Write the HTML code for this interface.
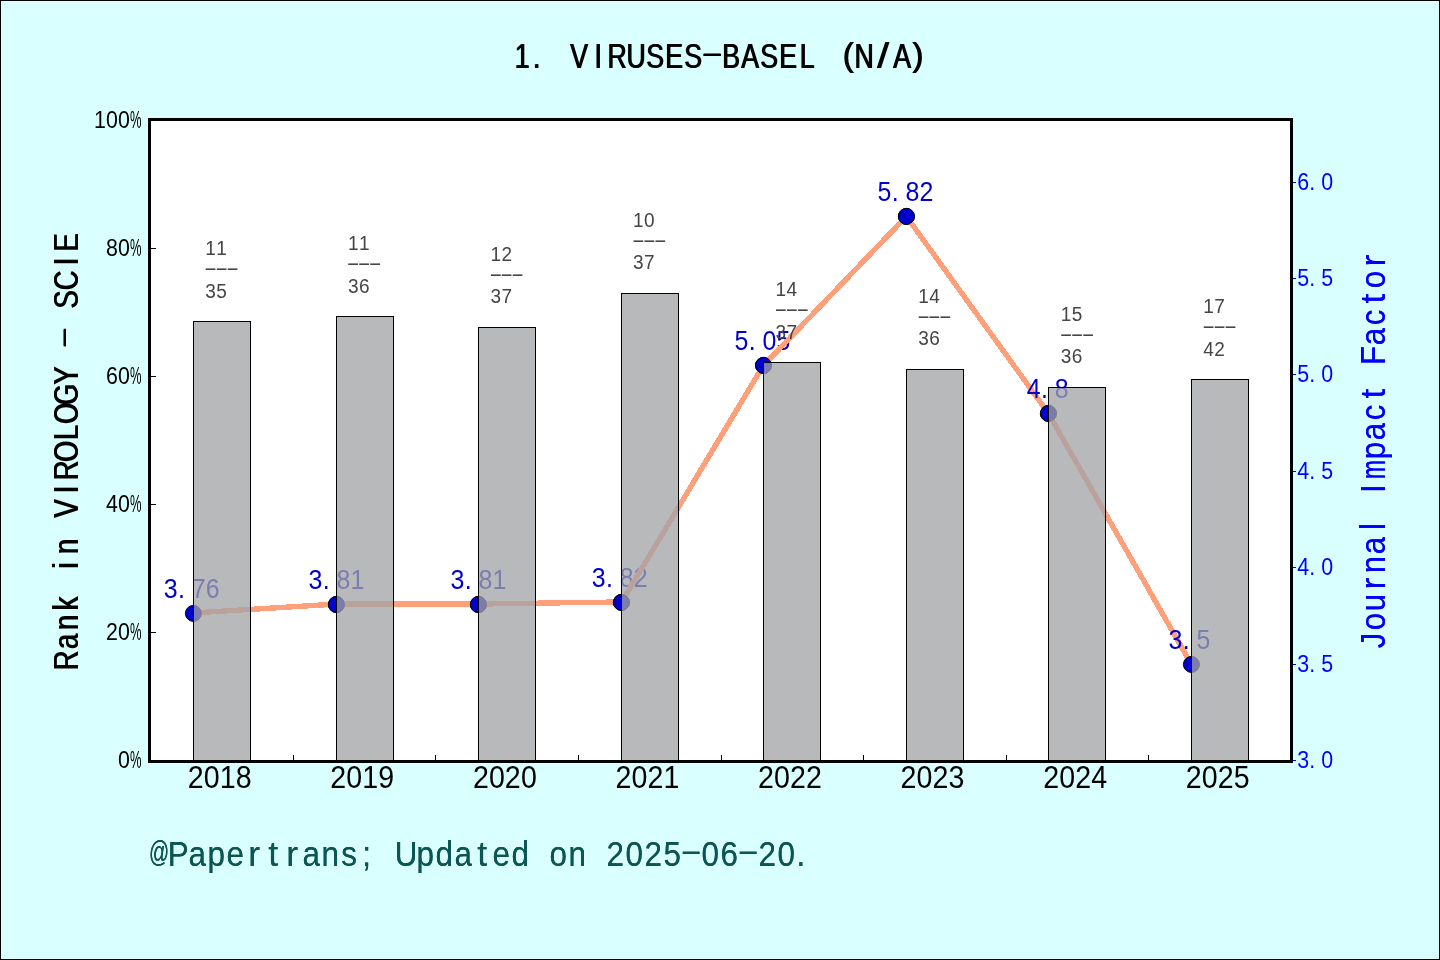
<!DOCTYPE html>
<html lang="en">
<head>
<meta charset="utf-8">
<title>VIRUSES-BASEL</title>
<style>
html,body{margin:0;padding:0;background:#d9ffff;}
body{width:1440px;height:960px;overflow:hidden;font-family:'Liberation Sans', sans-serif;}
svg{display:block;font-family:'Liberation Sans', sans-serif;}
</style>
</head>
<body>
<svg width="1440" height="960" viewBox="0 0 1440 960">
<defs><filter id="f09_0" x="-5%" y="-5%" width="110%" height="110%" color-interpolation-filters="sRGB"><feOffset in="SourceGraphic" dx="0.9" dy="0" result="o"/><feMerge><feMergeNode in="SourceGraphic"/><feMergeNode in="o"/></feMerge></filter><filter id="f0_m08" x="-5%" y="-5%" width="110%" height="110%" color-interpolation-filters="sRGB"><feOffset in="SourceGraphic" dx="0" dy="-0.8" result="o"/><feMerge><feMergeNode in="SourceGraphic"/><feMergeNode in="o"/></feMerge></filter><filter id="f0_m05" x="-5%" y="-5%" width="110%" height="110%" color-interpolation-filters="sRGB"><feOffset in="SourceGraphic" dx="0" dy="-0.5" result="o"/><feMerge><feMergeNode in="SourceGraphic"/><feMergeNode in="o"/></feMerge></filter><filter id="f03_0" x="-5%" y="-5%" width="110%" height="110%" color-interpolation-filters="sRGB"><feOffset in="SourceGraphic" dx="0.3" dy="0" result="o"/><feMerge><feMergeNode in="SourceGraphic"/><feMergeNode in="o"/></feMerge></filter></defs>
<rect x="0" y="0" width="1440" height="960" fill="#d9ffff"/>
<rect x="0.5" y="0.5" width="1439" height="959" fill="none" stroke="#000" stroke-width="1"/>
<rect x="149.5" y="119.5" width="1142.0" height="642.0" fill="#fff"/>
<g id="series">
<text transform="translate(170.7,597.5) scale(0.91,1)" x="0 11.85 30.77 46.15" font-size="27.4" fill="#0000cd" text-anchor="middle">3.76</text>
<line x1="193.4" y1="612.95" x2="336.4" y2="604.05" stroke="#ffa07a" stroke-width="5.33" shape-rendering="crispEdges"/>
<circle cx="193.4" cy="613.4" r="8" fill="#0000cd" stroke="#000" stroke-width="1"/>
<circle cx="336.4" cy="604.5" r="8" fill="#0000cd" stroke="#000" stroke-width="1"/>
<text transform="translate(315.4,588.6) scale(0.91,1)" x="0 11.85 30.77 46.15" font-size="27.4" fill="#0000cd" text-anchor="middle">3.81</text>
<line x1="336.4" y1="604.05" x2="478.4" y2="604.05" stroke="#ffa07a" stroke-width="5.33" shape-rendering="crispEdges"/>
<circle cx="336.4" cy="604.5" r="8" fill="#0000cd" stroke="#000" stroke-width="1"/>
<circle cx="478.4" cy="604.5" r="8" fill="#0000cd" stroke="#000" stroke-width="1"/>
<text transform="translate(457.4,588.6) scale(0.91,1)" x="0 11.85 30.77 46.15" font-size="27.4" fill="#0000cd" text-anchor="middle">3.81</text>
<line x1="478.4" y1="604.05" x2="621.4" y2="601.95" stroke="#ffa07a" stroke-width="5.33" shape-rendering="crispEdges"/>
<circle cx="478.4" cy="604.5" r="8" fill="#0000cd" stroke="#000" stroke-width="1"/>
<circle cx="621.4" cy="602.4" r="8" fill="#0000cd" stroke="#000" stroke-width="1"/>
<text transform="translate(598.6,586.5) scale(0.91,1)" x="0 11.85 30.77 46.15" font-size="27.4" fill="#0000cd" text-anchor="middle">3.82</text>
<line x1="621.4" y1="602.3" x2="763.5" y2="365.3" stroke="#ffa07a" stroke-width="5.33" shape-rendering="crispEdges"/>
<circle cx="621.4" cy="602.4" r="8" fill="#0000cd" stroke="#000" stroke-width="1"/>
<circle cx="763.5" cy="365.4" r="8" fill="#0000cd" stroke="#000" stroke-width="1"/>
<text transform="translate(741.35,349.5) scale(0.91,1)" x="0 11.85 30.77 46.15" font-size="27.4" fill="#0000cd" text-anchor="middle">5.05</text>
<line x1="763.5" y1="365.4" x2="906.4" y2="216.4" stroke="#ffa07a" stroke-width="5.33" shape-rendering="crispEdges"/>
<circle cx="763.5" cy="365.4" r="8" fill="#0000cd" stroke="#000" stroke-width="1"/>
<circle cx="906.4" cy="216.4" r="8" fill="#0000cd" stroke="#000" stroke-width="1"/>
<text transform="translate(884.5,200.5) scale(0.91,1)" x="0 11.85 30.77 46.15" font-size="27.4" fill="#0000cd" text-anchor="middle">5.82</text>
<line x1="906.4" y1="216.4" x2="1048.4" y2="413.4" stroke="#ffa07a" stroke-width="5.33" shape-rendering="crispEdges"/>
<circle cx="906.4" cy="216.4" r="8" fill="#0000cd" stroke="#000" stroke-width="1"/>
<circle cx="1048.4" cy="413.4" r="8" fill="#0000cd" stroke="#000" stroke-width="1"/>
<text transform="translate(1033.75,397.5) scale(0.91,1)" x="0 11.85 30.77" font-size="27.4" fill="#0000cd" text-anchor="middle">4.8</text>
<line x1="1048.4" y1="413.4" x2="1191.4" y2="664.4" stroke="#ffa07a" stroke-width="5.33" shape-rendering="crispEdges"/>
<circle cx="1048.4" cy="413.4" r="8" fill="#0000cd" stroke="#000" stroke-width="1"/>
<circle cx="1191.4" cy="664.4" r="8" fill="#0000cd" stroke="#000" stroke-width="1"/>
<text transform="translate(1175.5,648.5) scale(0.91,1)" x="0 11.85 30.77" font-size="27.4" fill="#0000cd" text-anchor="middle">3.5</text>
</g>
<rect x="193.5" y="321.5" width="57" height="440" fill="rgba(162,163,165,0.76)" stroke="#000" stroke-width="1"/>
<rect x="336.5" y="316.5" width="57" height="445" fill="rgba(162,163,165,0.76)" stroke="#000" stroke-width="1"/>
<rect x="478.5" y="327.5" width="57" height="434" fill="rgba(162,163,165,0.76)" stroke="#000" stroke-width="1"/>
<rect x="621.5" y="293.5" width="57" height="468" fill="rgba(162,163,165,0.76)" stroke="#000" stroke-width="1"/>
<rect x="763.5" y="362.5" width="57" height="399" fill="rgba(162,163,165,0.76)" stroke="#000" stroke-width="1"/>
<rect x="906.5" y="369.5" width="57" height="392" fill="rgba(162,163,165,0.76)" stroke="#000" stroke-width="1"/>
<rect x="1048.5" y="387.5" width="57" height="374" fill="rgba(162,163,165,0.76)" stroke="#000" stroke-width="1"/>
<rect x="1191.5" y="379.5" width="57" height="382" fill="rgba(162,163,165,0.76)" stroke="#000" stroke-width="1"/>
<g id="frac">
<text transform="translate(210.6,255.16) scale(0.91,1)" x="0 12.09" font-size="20.9" fill="#454545" text-anchor="middle">11</text>
<text transform="translate(210.6,277.36) scale(0.91,1)" x="0 12.09 24.18" y="-2.28 -2.28 -2.28" font-size="20.9" fill="#454545" text-anchor="middle"><tspan textLength="14.51" lengthAdjust="spacingAndGlyphs" font-size="20.9">-</tspan><tspan textLength="14.51" lengthAdjust="spacingAndGlyphs" font-size="20.9">-</tspan><tspan textLength="14.51" lengthAdjust="spacingAndGlyphs" font-size="20.9">-</tspan></text>
<text transform="translate(210.6,297.56) scale(0.91,1)" x="0 12.09" font-size="20.9" fill="#454545" text-anchor="middle">35</text>
<text transform="translate(353.17,250.36) scale(0.91,1)" x="0 12.09" font-size="20.9" fill="#454545" text-anchor="middle">11</text>
<text transform="translate(353.17,272.56) scale(0.91,1)" x="0 12.09 24.18" y="-2.28 -2.28 -2.28" font-size="20.9" fill="#454545" text-anchor="middle"><tspan textLength="14.51" lengthAdjust="spacingAndGlyphs" font-size="20.9">-</tspan><tspan textLength="14.51" lengthAdjust="spacingAndGlyphs" font-size="20.9">-</tspan><tspan textLength="14.51" lengthAdjust="spacingAndGlyphs" font-size="20.9">-</tspan></text>
<text transform="translate(353.17,292.76) scale(0.91,1)" x="0 12.09" font-size="20.9" fill="#454545" text-anchor="middle">36</text>
<text transform="translate(495.74,260.59) scale(0.91,1)" x="0 12.09" font-size="20.9" fill="#454545" text-anchor="middle">12</text>
<text transform="translate(495.74,282.79) scale(0.91,1)" x="0 12.09 24.18" y="-2.28 -2.28 -2.28" font-size="20.9" fill="#454545" text-anchor="middle"><tspan textLength="14.51" lengthAdjust="spacingAndGlyphs" font-size="20.9">-</tspan><tspan textLength="14.51" lengthAdjust="spacingAndGlyphs" font-size="20.9">-</tspan><tspan textLength="14.51" lengthAdjust="spacingAndGlyphs" font-size="20.9">-</tspan></text>
<text transform="translate(495.74,302.99) scale(0.91,1)" x="0 12.09" font-size="20.9" fill="#454545" text-anchor="middle">37</text>
<text transform="translate(638.31,226.94) scale(0.91,1)" x="0 12.09" font-size="20.9" fill="#454545" text-anchor="middle">10</text>
<text transform="translate(638.31,249.14) scale(0.91,1)" x="0 12.09 24.18" y="-2.28 -2.28 -2.28" font-size="20.9" fill="#454545" text-anchor="middle"><tspan textLength="14.51" lengthAdjust="spacingAndGlyphs" font-size="20.9">-</tspan><tspan textLength="14.51" lengthAdjust="spacingAndGlyphs" font-size="20.9">-</tspan><tspan textLength="14.51" lengthAdjust="spacingAndGlyphs" font-size="20.9">-</tspan></text>
<text transform="translate(638.31,269.34) scale(0.91,1)" x="0 12.09" font-size="20.9" fill="#454545" text-anchor="middle">37</text>
<text transform="translate(780.88,296.24) scale(0.91,1)" x="0 12.09" font-size="20.9" fill="#454545" text-anchor="middle">14</text>
<text transform="translate(780.88,318.44) scale(0.91,1)" x="0 12.09 24.18" y="-2.28 -2.28 -2.28" font-size="20.9" fill="#454545" text-anchor="middle"><tspan textLength="14.51" lengthAdjust="spacingAndGlyphs" font-size="20.9">-</tspan><tspan textLength="14.51" lengthAdjust="spacingAndGlyphs" font-size="20.9">-</tspan><tspan textLength="14.51" lengthAdjust="spacingAndGlyphs" font-size="20.9">-</tspan></text>
<text transform="translate(780.88,338.64) scale(0.91,1)" x="0 12.09" font-size="20.9" fill="#454545" text-anchor="middle">37</text>
<text transform="translate(923.45,302.98) scale(0.91,1)" x="0 12.09" font-size="20.9" fill="#454545" text-anchor="middle">14</text>
<text transform="translate(923.45,325.18) scale(0.91,1)" x="0 12.09 24.18" y="-2.28 -2.28 -2.28" font-size="20.9" fill="#454545" text-anchor="middle"><tspan textLength="14.51" lengthAdjust="spacingAndGlyphs" font-size="20.9">-</tspan><tspan textLength="14.51" lengthAdjust="spacingAndGlyphs" font-size="20.9">-</tspan><tspan textLength="14.51" lengthAdjust="spacingAndGlyphs" font-size="20.9">-</tspan></text>
<text transform="translate(923.45,345.38) scale(0.91,1)" x="0 12.09" font-size="20.9" fill="#454545" text-anchor="middle">36</text>
<text transform="translate(1066.02,320.78) scale(0.91,1)" x="0 12.09" font-size="20.9" fill="#454545" text-anchor="middle">15</text>
<text transform="translate(1066.02,342.98) scale(0.91,1)" x="0 12.09 24.18" y="-2.28 -2.28 -2.28" font-size="20.9" fill="#454545" text-anchor="middle"><tspan textLength="14.51" lengthAdjust="spacingAndGlyphs" font-size="20.9">-</tspan><tspan textLength="14.51" lengthAdjust="spacingAndGlyphs" font-size="20.9">-</tspan><tspan textLength="14.51" lengthAdjust="spacingAndGlyphs" font-size="20.9">-</tspan></text>
<text transform="translate(1066.02,363.18) scale(0.91,1)" x="0 12.09" font-size="20.9" fill="#454545" text-anchor="middle">36</text>
<text transform="translate(1208.59,313.15) scale(0.91,1)" x="0 12.09" font-size="20.9" fill="#454545" text-anchor="middle">17</text>
<text transform="translate(1208.59,335.35) scale(0.91,1)" x="0 12.09 24.18" y="-2.28 -2.28 -2.28" font-size="20.9" fill="#454545" text-anchor="middle"><tspan textLength="14.51" lengthAdjust="spacingAndGlyphs" font-size="20.9">-</tspan><tspan textLength="14.51" lengthAdjust="spacingAndGlyphs" font-size="20.9">-</tspan><tspan textLength="14.51" lengthAdjust="spacingAndGlyphs" font-size="20.9">-</tspan></text>
<text transform="translate(1208.59,355.55) scale(0.91,1)" x="0 12.09" font-size="20.9" fill="#454545" text-anchor="middle">42</text>
</g>
<line x1="293.5" y1="755" x2="293.5" y2="761" stroke="#000" stroke-width="1"/>
<line x1="435.5" y1="755" x2="435.5" y2="761" stroke="#000" stroke-width="1"/>
<line x1="578.5" y1="755" x2="578.5" y2="761" stroke="#000" stroke-width="1"/>
<line x1="721.5" y1="755" x2="721.5" y2="761" stroke="#000" stroke-width="1"/>
<line x1="863.5" y1="755" x2="863.5" y2="761" stroke="#000" stroke-width="1"/>
<line x1="1006.5" y1="755" x2="1006.5" y2="761" stroke="#000" stroke-width="1"/>
<line x1="1148.5" y1="755" x2="1148.5" y2="761" stroke="#000" stroke-width="1"/>
<line x1="150" y1="632.5" x2="156" y2="632.5" stroke="#000" stroke-width="1"/>
<line x1="150" y1="504.5" x2="156" y2="504.5" stroke="#000" stroke-width="1"/>
<line x1="150" y1="376.5" x2="156" y2="376.5" stroke="#000" stroke-width="1"/>
<line x1="150" y1="248.5" x2="156" y2="248.5" stroke="#000" stroke-width="1"/>
<line x1="1292" y1="760.5" x2="1296" y2="760.5" stroke="#00f" stroke-width="1"/>
<line x1="1292" y1="664.5" x2="1296" y2="664.5" stroke="#00f" stroke-width="1"/>
<line x1="1292" y1="567.5" x2="1296" y2="567.5" stroke="#00f" stroke-width="1"/>
<line x1="1292" y1="471.5" x2="1296" y2="471.5" stroke="#00f" stroke-width="1"/>
<line x1="1292" y1="374.5" x2="1296" y2="374.5" stroke="#00f" stroke-width="1"/>
<line x1="1292" y1="278.5" x2="1296" y2="278.5" stroke="#00f" stroke-width="1"/>
<line x1="1292" y1="182.5" x2="1296" y2="182.5" stroke="#00f" stroke-width="1"/>
<rect x="149.5" y="119.5" width="1142.0" height="642.0" fill="none" stroke="#000" stroke-width="3"/>
<g id="ylab">
<text transform="translate(123.85,767.6) scale(0.91,1)" x="0 13.19" font-size="23.5" fill="#000" text-anchor="middle">0<tspan textLength="12.66" lengthAdjust="spacingAndGlyphs">%</tspan></text>
<text transform="translate(111.85,639.6) scale(0.91,1)" x="0 13.19 26.37" font-size="23.5" fill="#000" text-anchor="middle">20<tspan textLength="12.66" lengthAdjust="spacingAndGlyphs">%</tspan></text>
<text transform="translate(111.85,511.6) scale(0.91,1)" x="0 13.19 26.37" font-size="23.5" fill="#000" text-anchor="middle">40<tspan textLength="12.66" lengthAdjust="spacingAndGlyphs">%</tspan></text>
<text transform="translate(111.85,383.6) scale(0.91,1)" x="0 13.19 26.37" font-size="23.5" fill="#000" text-anchor="middle">60<tspan textLength="12.66" lengthAdjust="spacingAndGlyphs">%</tspan></text>
<text transform="translate(111.85,255.6) scale(0.91,1)" x="0 13.19 26.37" font-size="23.5" fill="#000" text-anchor="middle">80<tspan textLength="12.66" lengthAdjust="spacingAndGlyphs">%</tspan></text>
<text transform="translate(99.85,127.6) scale(0.91,1)" x="0 13.19 26.37 39.56" font-size="23.5" fill="#000" text-anchor="middle">100<tspan textLength="12.66" lengthAdjust="spacingAndGlyphs">%</tspan></text>
</g>
<g id="y2lab">
<text transform="translate(1303.1,767.8) scale(0.91,1)" x="0 10.15 26.37" font-size="23.5" fill="#00f" text-anchor="middle">3.0</text>
<text transform="translate(1303.1,671.8) scale(0.91,1)" x="0 10.15 26.37" font-size="23.5" fill="#00f" text-anchor="middle">3.5</text>
<text transform="translate(1303.1,574.8) scale(0.91,1)" x="0 10.15 26.37" font-size="23.5" fill="#00f" text-anchor="middle">4.0</text>
<text transform="translate(1303.1,478.8) scale(0.91,1)" x="0 10.15 26.37" font-size="23.5" fill="#00f" text-anchor="middle">4.5</text>
<text transform="translate(1303.1,381.8) scale(0.91,1)" x="0 10.15 26.37" font-size="23.5" fill="#00f" text-anchor="middle">5.0</text>
<text transform="translate(1303.1,285.8) scale(0.91,1)" x="0 10.15 26.37" font-size="23.5" fill="#00f" text-anchor="middle">5.5</text>
<text transform="translate(1303.1,189.8) scale(0.91,1)" x="0 10.15 26.37" font-size="23.5" fill="#00f" text-anchor="middle">6.0</text>
</g>
<g id="xlab">
<text transform="translate(195.7,788) scale(0.91,1)" x="0 17.58 35.16 52.75" font-size="31.4" fill="#000" text-anchor="middle">2018</text>
<text transform="translate(338.27,788) scale(0.91,1)" x="0 17.58 35.16 52.75" font-size="31.4" fill="#000" text-anchor="middle">2019</text>
<text transform="translate(480.84,788) scale(0.91,1)" x="0 17.58 35.16 52.75" font-size="31.4" fill="#000" text-anchor="middle">2020</text>
<text transform="translate(623.41,788) scale(0.91,1)" x="0 17.58 35.16 52.75" font-size="31.4" fill="#000" text-anchor="middle">2021</text>
<text transform="translate(765.98,788) scale(0.91,1)" x="0 17.58 35.16 52.75" font-size="31.4" fill="#000" text-anchor="middle">2022</text>
<text transform="translate(908.55,788) scale(0.91,1)" x="0 17.58 35.16 52.75" font-size="31.4" fill="#000" text-anchor="middle">2023</text>
<text transform="translate(1051.12,788) scale(0.91,1)" x="0 17.58 35.16 52.75" font-size="31.4" fill="#000" text-anchor="middle">2024</text>
<text transform="translate(1193.69,788) scale(0.91,1)" x="0 17.58 35.16 52.75" font-size="31.4" fill="#000" text-anchor="middle">2025</text>
</g>
<g filter="url(#f09_0)"><text transform="translate(521.65,68.4) scale(0.75,1)" x="0 19.51 50.67 76 101.33 126.67 152 177.33 202.67 228 253.33 278.67 304 329.33 354.67 380 405.33 434.97 456 481.33 506.67 527.69" y="0 0 0 0 0 0 0 0 0 0 -5.3 0 0 0 0 0 0 -2.85 0 0 0 -2.85" font-size="35.6" fill="#000" text-anchor="middle">1. VIRUSES<tspan textLength="30.4" lengthAdjust="spacingAndGlyphs" font-size="30.26">-</tspan>BASEL <tspan textLength="14.69" lengthAdjust="spacingAndGlyphs" font-size="32.75">(</tspan>N<tspan textLength="15.71" lengthAdjust="spacingAndGlyphs" stroke="none">/</tspan>A<tspan textLength="14.69" lengthAdjust="spacingAndGlyphs" font-size="32.75">)</tspan></text></g>
<g filter="url(#f0_m08)"><text transform="translate(78,661) rotate(-90) scale(0.78,1)" x="0 24.36 48.72 73.08 97.44 121.79 146.15 170.51 194.87 219.23 243.59 267.95 292.31 316.67 341.03 365.38 389.74 414.1 438.46 462.82 487.18 511.54 535.9" y="0 0 0 0 0 0 0 0 0 0 0 0 0 0 0 0 0 -5.21 0 0 0 0 0" font-size="35" fill="#000" text-anchor="middle">Rank in VIROLOGY <tspan textLength="29.23" lengthAdjust="spacingAndGlyphs" font-size="29.75">-</tspan> SCIE</text></g>
<g filter="url(#f0_m05)"><text transform="translate(1384.5,640.55) rotate(-90) scale(0.89,1)" x="0 21.35 42.7 64.04 85.39 106.74 128.09 149.44 170.79 192.13 213.48 234.83 256.18 277.53 298.88 320.22 341.57 362.92 384.27 405.62 426.97" font-size="35" fill="#00f" text-anchor="middle">Jou<tspan textLength="13.24" lengthAdjust="spacingAndGlyphs">r</tspan>nal I<tspan textLength="21.35" lengthAdjust="spacingAndGlyphs">m</tspan>pac<tspan textLength="11.1" lengthAdjust="spacingAndGlyphs">t</tspan> Fac<tspan textLength="11.1" lengthAdjust="spacingAndGlyphs">t</tspan>o<tspan textLength="13.24" lengthAdjust="spacingAndGlyphs">r</tspan></text></g>
<g filter="url(#f03_0)"><text transform="translate(159.15,866) scale(0.89,1)" x="0 21.35 42.7 64.04 85.39 106.74 128.09 149.44 170.79 192.13 213.48 233.12 256.18 277.53 298.88 320.22 341.57 362.92 384.27 405.62 426.97 448.31 469.66 491.01 512.36 533.71 555.06 576.4 597.75 619.1 640.45 661.8 683.15 704.49 720.93" y="-3.53 0 0 0 0 0 0 0 0 0 0 0 0 0 0 0 0 0 0 0 0 0 0 0 0 0 0 0 -5.26 0 0 -5.26 0 0 0" font-size="35.3" fill="#0b5552" text-anchor="middle"><tspan textLength="22.63" lengthAdjust="spacingAndGlyphs" font-size="28.95">@</tspan>Pape<tspan textLength="13.24" lengthAdjust="spacingAndGlyphs">r</tspan><tspan textLength="11.1" lengthAdjust="spacingAndGlyphs">t</tspan><tspan textLength="13.24" lengthAdjust="spacingAndGlyphs">r</tspan>ans; Upda<tspan textLength="11.1" lengthAdjust="spacingAndGlyphs">t</tspan>ed on 2025<tspan textLength="25.62" lengthAdjust="spacingAndGlyphs" font-size="30">-</tspan>06<tspan textLength="25.62" lengthAdjust="spacingAndGlyphs" font-size="30">-</tspan>20.</text></g>
</svg>
</body>
</html>
